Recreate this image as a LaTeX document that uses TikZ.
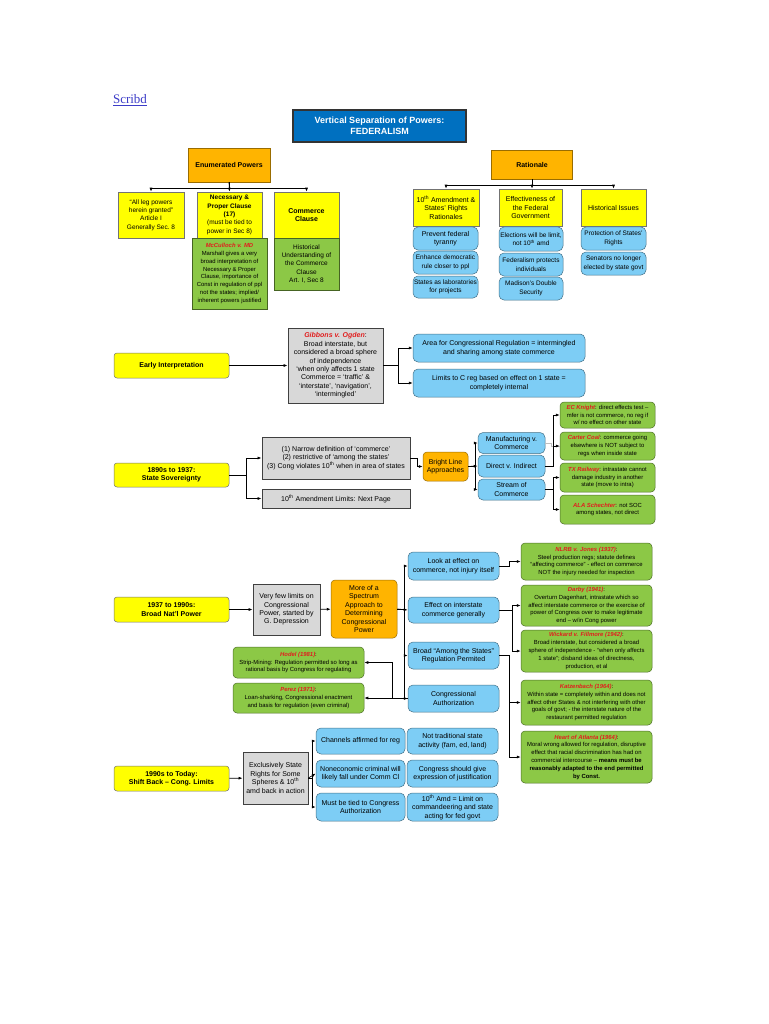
\documentclass[tikz,border=0pt]{standalone}
\usepackage{fontspec}
\setmainfont{Liberation Sans}
\newfontfamily\scribdfont{Liberation Serif}
\usetikzlibrary{arrows.meta,positioning,calc}
\definecolor{cYel}{RGB}{255,255,0}
\definecolor{cOra}{RGB}{255,180,0}
\definecolor{cBlu}{RGB}{125,205,245}
\definecolor{cGrn}{RGB}{140,200,70}
\definecolor{cGry}{RGB}{216,216,216}
\definecolor{cTtl}{RGB}{0,112,192}
\definecolor{cRed}{RGB}{225,30,30}
\definecolor{cLnk}{RGB}{60,60,200}
\newcommand{\fxs}{\fontsize{5.9}{7.8}\selectfont}
\newcommand{\fsm}{\fontsize{6.5}{8.4}\selectfont}
\newcommand{\fmd}{\fontsize{7}{8.4}\selectfont}
\newcommand{\cs}[1]{{\color{cRed}\bfseries\itshape #1}}

\begin{document}
\begin{tikzpicture}[x=1pt,y=-1pt,>={Latex[length=4pt,width=3pt]},line width=0.7pt,
  sz/.style 2 args={minimum width=#1,minimum height=#2},
  sq/.style={draw=black!55,line width=0.5pt,inner sep=1pt,align=center,font=\fmd},
  ylw/.style={sq,fill=cYel},
  org/.style={sq,fill=cOra,draw=cOra!60!black},
  gry/.style={sq,fill=cGry,draw=black!75,line width=0.8pt},
  era/.style={ylw,rounded corners=3pt,font=\fmd\bfseries},
  blu/.style={sq,fill=cBlu,draw=cBlu!55!black,rounded corners=5pt},
  grn/.style={sq,fill=cGrn,draw=cGrn!55!black,rounded corners=4pt,font=\fxs},
  link/.style={->,line width=0.7pt}]
\fill[white] (0,0) rectangle (768,1024);

\node (scribd) [text=cLnk,font=\scribdfont\fontsize{13}{13}\selectfont] at (130,100) {\underline{Scribd}};
\node (title) [sq,sz={173}{32},fill=cTtl,draw=black!80,line width=1.2pt,text=white,font=\fontsize{9}{10.5}\selectfont\bfseries] at (379.5,126) {Vertical Separation of Powers:\\FEDERALISM};

\node (enum) [org,sz={82}{34},font=\fmd\bfseries] at (229,165) {Enumerated Powers};
\node (allleg) [ylw,sz={66}{46},font=\fsm] at (151,215) {``All leg powers\\herein granted''\\Article I\\Generally Sec.~8};
\node (nandp) [ylw,sz={65}{46},font=\fsm] at (229.5,215) {\textbf{Necessary \&}\\\textbf{Proper Clause}\\\textbf{(17)}\\(must be tied to\\power in Sec 8)};
\node (comm) [ylw,sz={65}{46},font=\fmd\bfseries] at (306.5,215) {Commerce\\Clause};
\node (mccul) [sq,fill=cGrn,draw=cGrn!50!black,sz={75}{71},font=\fxs] at (229.5,273.5) {\cs{McCulloch v. MD}\\Marshall gives a very\\broad interpretation of\\Necessary \& Proper\\Clause, importance of\\Const in regulation of ppl\\not the states; implied/\\inherent powers justified};
\node (histc) [sq,fill=cGrn,draw=cGrn!50!black,sz={65}{52},font=\fsm] at (306.5,264) {Historical\\Understanding of\\the Commerce\\Clause\\Art. I, Sec 8};
\draw[link] (enum.south) -- ++(0,6) -| (allleg.north);
\draw[link] (enum.south) -- ++(0,6) -| (comm.north);
\draw[link] (enum.south) -- (nandp.north);

\node (rat) [org,sz={81}{29},font=\fmd\bfseries] at (532,164.5) {Rationale};
\node (tenth) [ylw,sz={66}{37}] at (446,207.5) {10\textsuperscript{th} Amendment \&\\States' Rights\\Rationales};
\node (effect) [ylw,sz={63}{37}] at (530.5,207.5) {Effectiveness of\\the Federal\\Government};
\node (histi) [ylw,sz={65}{37}] at (613.5,207.5) {Historical Issues};
\draw[link] (rat.south) -- ++(0,6) -| (tenth.north);
\draw[link] (rat.south) -- ++(0,6) -| (histi.north);
\draw[link] (rat.south) -- (rat.south |- effect.north);

\node (tyr) [blu,sz={65}{23},font=\fmd] at (445.5,238.5) {Prevent federal\\tyranny};
\node (demo) [blu,sz={65}{23},font=\fsm] at (445.5,262.5) {Enhance democratic\\rule closer to ppl};
\node (labs) [blu,sz={65}{22},font=\fsm] at (445.5,287) {States as laboratories\\for projects};
\node (elect) [blu,sz={64}{24},font=\fsm] at (531,239) {Elections will be limit,\\not 10\textsuperscript{th} amd};
\node (indiv) [blu,sz={64}{23},font=\fsm] at (531,264.5) {Federalism protects\\individuals};
\node (madis) [blu,sz={64}{23},font=\fsm] at (531,288.5) {Madison's Double\\Security};
\node (protr) [blu,sz={65}{23},font=\fsm] at (613.5,238.5) {Protection of States'\\Rights};
\node (senat) [blu,sz={65}{23},font=\fsm] at (613.5,263.5) {Senators no longer\\elected by state govt};

\node (early) [era,sz={115}{25}] at (171.5,365.5) {Early Interpretation};
\node (gib) [gry,sz={95}{75}] at (335.5,365.5) {\cs{Gibbons v. Ogden}:\\Broad interstate, but\\considered a broad sphere\\of independence\\`when only affects 1 state\\Commerce = `traffic' \&\\`interstate', `navigation',\\`intermingled'};
\node (area) [blu,sz={172}{28}] at (499,348) {Area for Congressional Regulation = intermingled\\and sharing among state commerce};
\node (limits) [blu,sz={172}{28}] at (499,383) {Limits to C reg based on effect on 1 state =\\completely internal};
\draw[link] (early) -- (gib);
\draw[link] (gib.east) -- ++(15,0) |- (area.west);
\draw[link] (gib.east) -- ++(15,0) |- (limits.west);

\node (sov) [era,sz={115}{24}] at (171.5,475) {1890s to 1937:\\State Sovereignty};
\node (narrow) [gry,sz={148}{42}] at (336,458) {(1) Narrow definition of `commerce'\\(2) restrictive of `among the states'\\(3) Cong violates 10\textsuperscript{th} when in area of states};
\node (tenlim) [gry,sz={148}{19}] at (336,498.5) {10\textsuperscript{th} Amendment Limits: Next Page};
\node (bright) [org,rounded corners=4pt,sz={45}{29}] at (445.5,466.5) {Bright Line\\Approaches};
\node (manu) [blu,sz={67}{21}] at (511.5,443) {Manufacturing v.\\Commerce};
\node (direct) [blu,sz={67}{22}] at (511.5,466) {Direct v. Indirect};
\node (stream) [blu,sz={67}{21}] at (511.5,489.5) {Stream of\\Commerce};
\node (knight) [grn,sz={95}{26}] at (607.5,415) {\cs{EC Knight}: direct effects test --\\mfer is not commerce, no reg if\\w/ no effect on other state};
\node (carter) [grn,sz={95}{28}] at (607.5,446) {\cs{Carter Coal}: commerce going\\elsewhere is NOT subject to\\regs when inside state};
\node (txrail) [grn,sz={95}{29}] at (607.5,477.5) {\cs{TX Railway}: intrastate cannot\\damage industry in another\\state (move to intra)};
\node (schech) [grn,sz={95}{29}] at (607.5,509.5) {\cs{ALA Schechter}: not SOC\\among states, not direct};
\draw[link] (sov.east) -- ++(17,0) |- (narrow.west);
\draw[link] (sov.east) -- ++(17,0) |- (tenlim.west);
\draw[link] (narrow.east) -- ++(7,0) |- (bright.west);
\draw[link] (bright.east) -- ++(7,0) |- (manu.west);
\draw[link] (bright.east) -- (direct.west);
\draw[link] (bright.east) -- ++(7,0) |- (stream.west);
\draw[black!25,line width=0.5pt] (manu.east) -- ++(6,0) |- (carter.west);
\draw[link] (direct.east) -- ++(8,0) |- (knight.west);
\draw[link] (direct.east) -- ++(8,0) |- (carter.west);
\draw[link] (stream.east) -- ++(8,0) |- (txrail.west);
\draw[link] (stream.east) -- ++(8,0) |- (schech.west);

\node (natl) [era,sz={115}{25}] at (171.5,609.5) {1937 to 1990s:\\Broad Nat'l Power};
\node (few) [gry,sz={67}{51}] at (286.5,609.5) {Very few limits on\\Congressional\\Power, started by\\G. Depression};
\node (spec) [org,rounded corners=4pt,sz={66}{58}] at (364,609) {More of a\\Spectrum\\Approach to\\Determining\\Congressional\\Power};
\node (look) [blu,sz={91}{28}] at (453.5,566) {Look at effect on\\commerce, not injury itself};
\node (effi) [blu,sz={91}{26}] at (453.5,610) {Effect on interstate\\commerce generally};
\node (among) [blu,sz={91}{27}] at (453.5,655.5) {Broad ``Among the States''\\Regulation Permited};
\node (cauth) [blu,sz={91}{27}] at (453.5,698.5) {Congressional\\Authorization};
\node (hodel) [grn,sz={131}{31}] at (298.5,662.5) {\cs{Hodel (1981)}:\\Strip-Mining: Regulation permitted so long as\\rational basis by Congress for regulating};
\node (perez) [grn,sz={131}{30}] at (298.5,698) {\cs{Perez (1971)}:\\Loan-sharking, Congressional enactment\\and basis for regulation (even criminal)};
\node (nlrb) [grn,sz={131}{37}] at (586.5,561.5) {\cs{NLRB v. Jones (1937)}:\\Steel production regs; statute defines\\``affecting commerce'' - effect on commerce\\NOT the injury needed for inspection};
\node (darby) [grn,sz={131}{41}] at (586.5,605.5) {\cs{Darby (1941)}:\\Overturn Dagenhart, intrastate which so\\affect interstate commerce or the exercise of\\power of Congress over to make legitimate\\end -- w/in Cong power};
\node (wick) [grn,sz={131}{42}] at (586.5,651) {\cs{Wickard v. Fillmore (1942)}:\\Broad interstate, but considered a broad\\sphere of independence - ``when only affects\\1 state''; disband ideas of directness,\\production, et al};
\node (katz) [grn,sz={131}{45}] at (586.5,702.5) {\cs{Katzenbach (1964)}:\\Within state = completely within and does not\\affect other States \& not interfering with other\\goals of govt; - the interstate nature of the\\restaurant permitted regulation};
\node (heart) [grn,sz={131}{52}] at (586.5,757) {\cs{Heart of Atlanta (1964)}:\\Moral wrong allowed for regulation, disruptive\\effect that racial discrimination has had on\\commercial intercourse -- \textbf{means must be}\\\textbf{reasonably adapted to the end permitted}\\\textbf{by Const.}};
\draw[link] (natl) -- (few);
\draw[link] (few) -- (spec);
\draw[link] (spec.east) -- ++(7,0) |- (look.west);
\draw[link] (spec.east) -- (effi.west);
\draw[link] (spec.east) -- ++(7,0) |- (among.west);
\draw[link] (spec.east) -- ++(7,0) |- (cauth.west);
\draw[link] (cauth.west) -- ++(-15,0) |- (hodel.east);
\draw[link] (cauth.west) -- ++(-15,0) |- (perez.east);
\draw[link] (look.east) -- ++(10,0) |- (nlrb.west);
\draw[link] (effi.east) -- ++(13,0) |- (darby.west);
\draw[link] (effi.east) -- ++(13,0) |- (wick.west);
\draw[link] (among.east) -- ++(10,0) |- (katz.west);
\draw[link] (among.east) -- ++(10,0) |- (heart.west);

\node (today) [era,sz={115}{25}] at (171.5,778.5) {1990s to Today:\\Shift Back -- Cong. Limits};
\node (excl) [gry,sz={65}{52}] at (275.5,778) {Exclusively State\\Rights for Some\\Spheres \& 10\textsuperscript{th}\\amd back in action};
\node (chan) [blu,sz={89}{26}] at (360.5,741) {Channels affirmed for reg};
\node (nonec) [blu,sz={89}{27}] at (360.5,773.5) {Noneconomic criminal will\\likely fall under Comm Cl};
\node (must) [blu,sz={89}{28}] at (360.5,807) {Must be tied to Congress\\Authorization};
\node (nottrad) [blu,sz={91}{26}] at (452.5,741) {Not traditional state\\activity (fam, ed, land)};
\node (justif) [blu,sz={91}{27}] at (452.5,773.5) {Congress should give\\expression of justification};
\node (comdr) [blu,sz={91}{28}] at (452.5,807) {10\textsuperscript{th} Amd = Limit on\\commandeering and state\\acting for fed govt};
\draw[link] (today) -- (excl);
\draw[link] (excl.east) -- ++(4,0) |- (chan.west);
\draw[link] (excl.east) -- (nonec.west);
\draw[link] (excl.east) -- ++(4,0) |- (must.west);
\end{tikzpicture}
\end{document}
